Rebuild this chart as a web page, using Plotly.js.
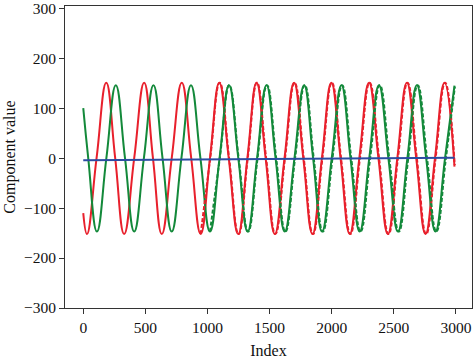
<!DOCTYPE html>
<html>
<head>
<meta charset="utf-8">
<script src="https://cdn.plot.ly/plotly-3.0.1.min.js"></script>
<style>html,body{margin:0;padding:0;background:#fff;}#chart{width:474px;height:364px;}</style>
</head>
<body>
<div id="chart"></div>
<script>
// Red component (solid): key points (start, troughs, zero crossings, peaks, end)
var redIdx = [0, 30, 107, 185, 257, 329, 410, 490, 561, 632, 712, 793, 869, 945, 1020, 1095, 1171, 1247, 1321, 1395, 1468, 1542, 1620, 1697, 1771, 1845, 1921, 1997, 2071, 2145, 2222, 2300, 2376, 2452, 2528, 2605, 2680, 2755, 2831, 2908, 2988];
var redVal = [-110, -152, 0, 151, 0, -152, 0, 151, 0, -152, 0, 151, 0, -152, 0, 151, 0, -152, 0, 151, 0, -152, 0, 151, 0, -152, 0, 151, 0, -152, 0, 151, 0, -152, 0, 151, 0, -152, 0, 151, -17];

// Red component (dashed estimate), visible from ~1000 onwards, slightly lagging
var redDashIdx = [945, 1022, 1098, 1174, 1250, 1324, 1398, 1472, 1546, 1624, 1701, 1775, 1849, 1925, 2001, 2075, 2150, 2227, 2305, 2381, 2457, 2533, 2610, 2685, 2760, 2836, 2913, 2990];
var redDashVal = [-152, 0, 151, 0, -152, 0, 151, 0, -152, 0, 151, 0, -152, 0, 151, 0, -152, 0, 151, 0, -152, 0, 151, 0, -152, 0, 151, -14];

// Green component (solid)
var greenIdx = [0, 40, 110, 186, 262, 336, 410, 488, 565, 638, 712, 790, 867, 943, 1020, 1097, 1173, 1248, 1323, 1399, 1475, 1548, 1622, 1700, 1778, 1850, 1922, 2000, 2078, 2151, 2225, 2302, 2380, 2456, 2533, 2609, 2685, 2760, 2835, 2912, 2988];
var greenVal = [100, 0, -147, 0, 146, 0, -147, 0, 146, 0, -147, 0, 146, 0, -147, 0, 146, 0, -147, 0, 146, 0, -147, 0, 146, 0, -147, 0, 146, 0, -147, 0, 146, 0, -147, 0, 146, 0, -147, 0, 145];

// Green component (dashed estimate)
var greenDashIdx = [1020, 1099, 1175, 1251, 1327, 1403, 1479, 1553, 1627, 1705, 1783, 1855, 1928, 2006, 2084, 2157, 2232, 2309, 2387, 2463, 2540, 2616, 2692, 2767, 2842, 2919, 2991];
var greenDashVal = [-147, 0, 146, 0, -147, 0, 146, 0, -147, 0, 146, 0, -147, 0, 146, 0, -147, 0, 146, 0, -147, 0, 146, 0, -147, 0, 143];

// Blue component (near zero trend)
var blueIdx = [0, 1500, 2988];
var blueVal = [-4, -1.5, 1];

var RED = '#e8202c', GREEN = '#13893a', BLUE = '#2c4ca2';

var traces = [
  {x: redIdx, y: redVal, mode: 'lines', line: {color: RED, width: 2, shape: 'spline', smoothing: 1.3}},
  {x: greenIdx, y: greenVal, mode: 'lines', line: {color: GREEN, width: 2, shape: 'spline', smoothing: 1.3}},
  {x: redDashIdx, y: redDashVal, mode: 'lines', line: {color: RED, width: 2, dash: '4px,2px', shape: 'spline', smoothing: 1.3}},
  {x: greenDashIdx, y: greenDashVal, mode: 'lines', line: {color: GREEN, width: 2, dash: '4px,2px', shape: 'spline', smoothing: 1.3}},
  {x: blueIdx, y: blueVal, mode: 'lines', line: {color: BLUE, width: 2}}
];

var fontFam = '"Liberation Serif", "DejaVu Serif", serif';
var layout = {
  width: 474, height: 364,
  margin: {l: 65, r: 2, t: 6, b: 56},
  paper_bgcolor: '#fff', plot_bgcolor: '#fff',
  showlegend: false,
  font: {family: fontFam, size: 15, color: '#111'},
  xaxis: {
    range: [-147, 3129],
    tickvals: [0, 500, 1000, 1500, 2000, 2500, 3000],
    ticks: 'outside', ticklen: 5, tickwidth: 1, tickcolor: '#333',
    showline: true, linecolor: '#333', linewidth: 1, mirror: true,
    showgrid: false, zeroline: false, ticklabeloverflow: 'allow',
    title: {text: 'Index', font: {family: fontFam, size: 16}, standoff: 10},
    tickfont: {family: fontFam, size: 15.5}
  },
  yaxis: {
    range: [-300, 304.6],
    tickvals: [-300, -200, -100, 0, 100, 200, 300],
    ticks: 'outside', ticklen: 5, tickwidth: 1, tickcolor: '#333',
    showline: true, linecolor: '#333', linewidth: 1, mirror: true,
    showgrid: false, zeroline: false, ticklabeloverflow: 'allow',
    title: {text: 'Component value', font: {family: fontFam, size: 16}, standoff: 4},
    tickfont: {family: fontFam, size: 15.5}
  }
};

Plotly.newPlot('chart', traces, layout, {displayModeBar: false, staticPlot: true});
</script>
</body>
</html>
